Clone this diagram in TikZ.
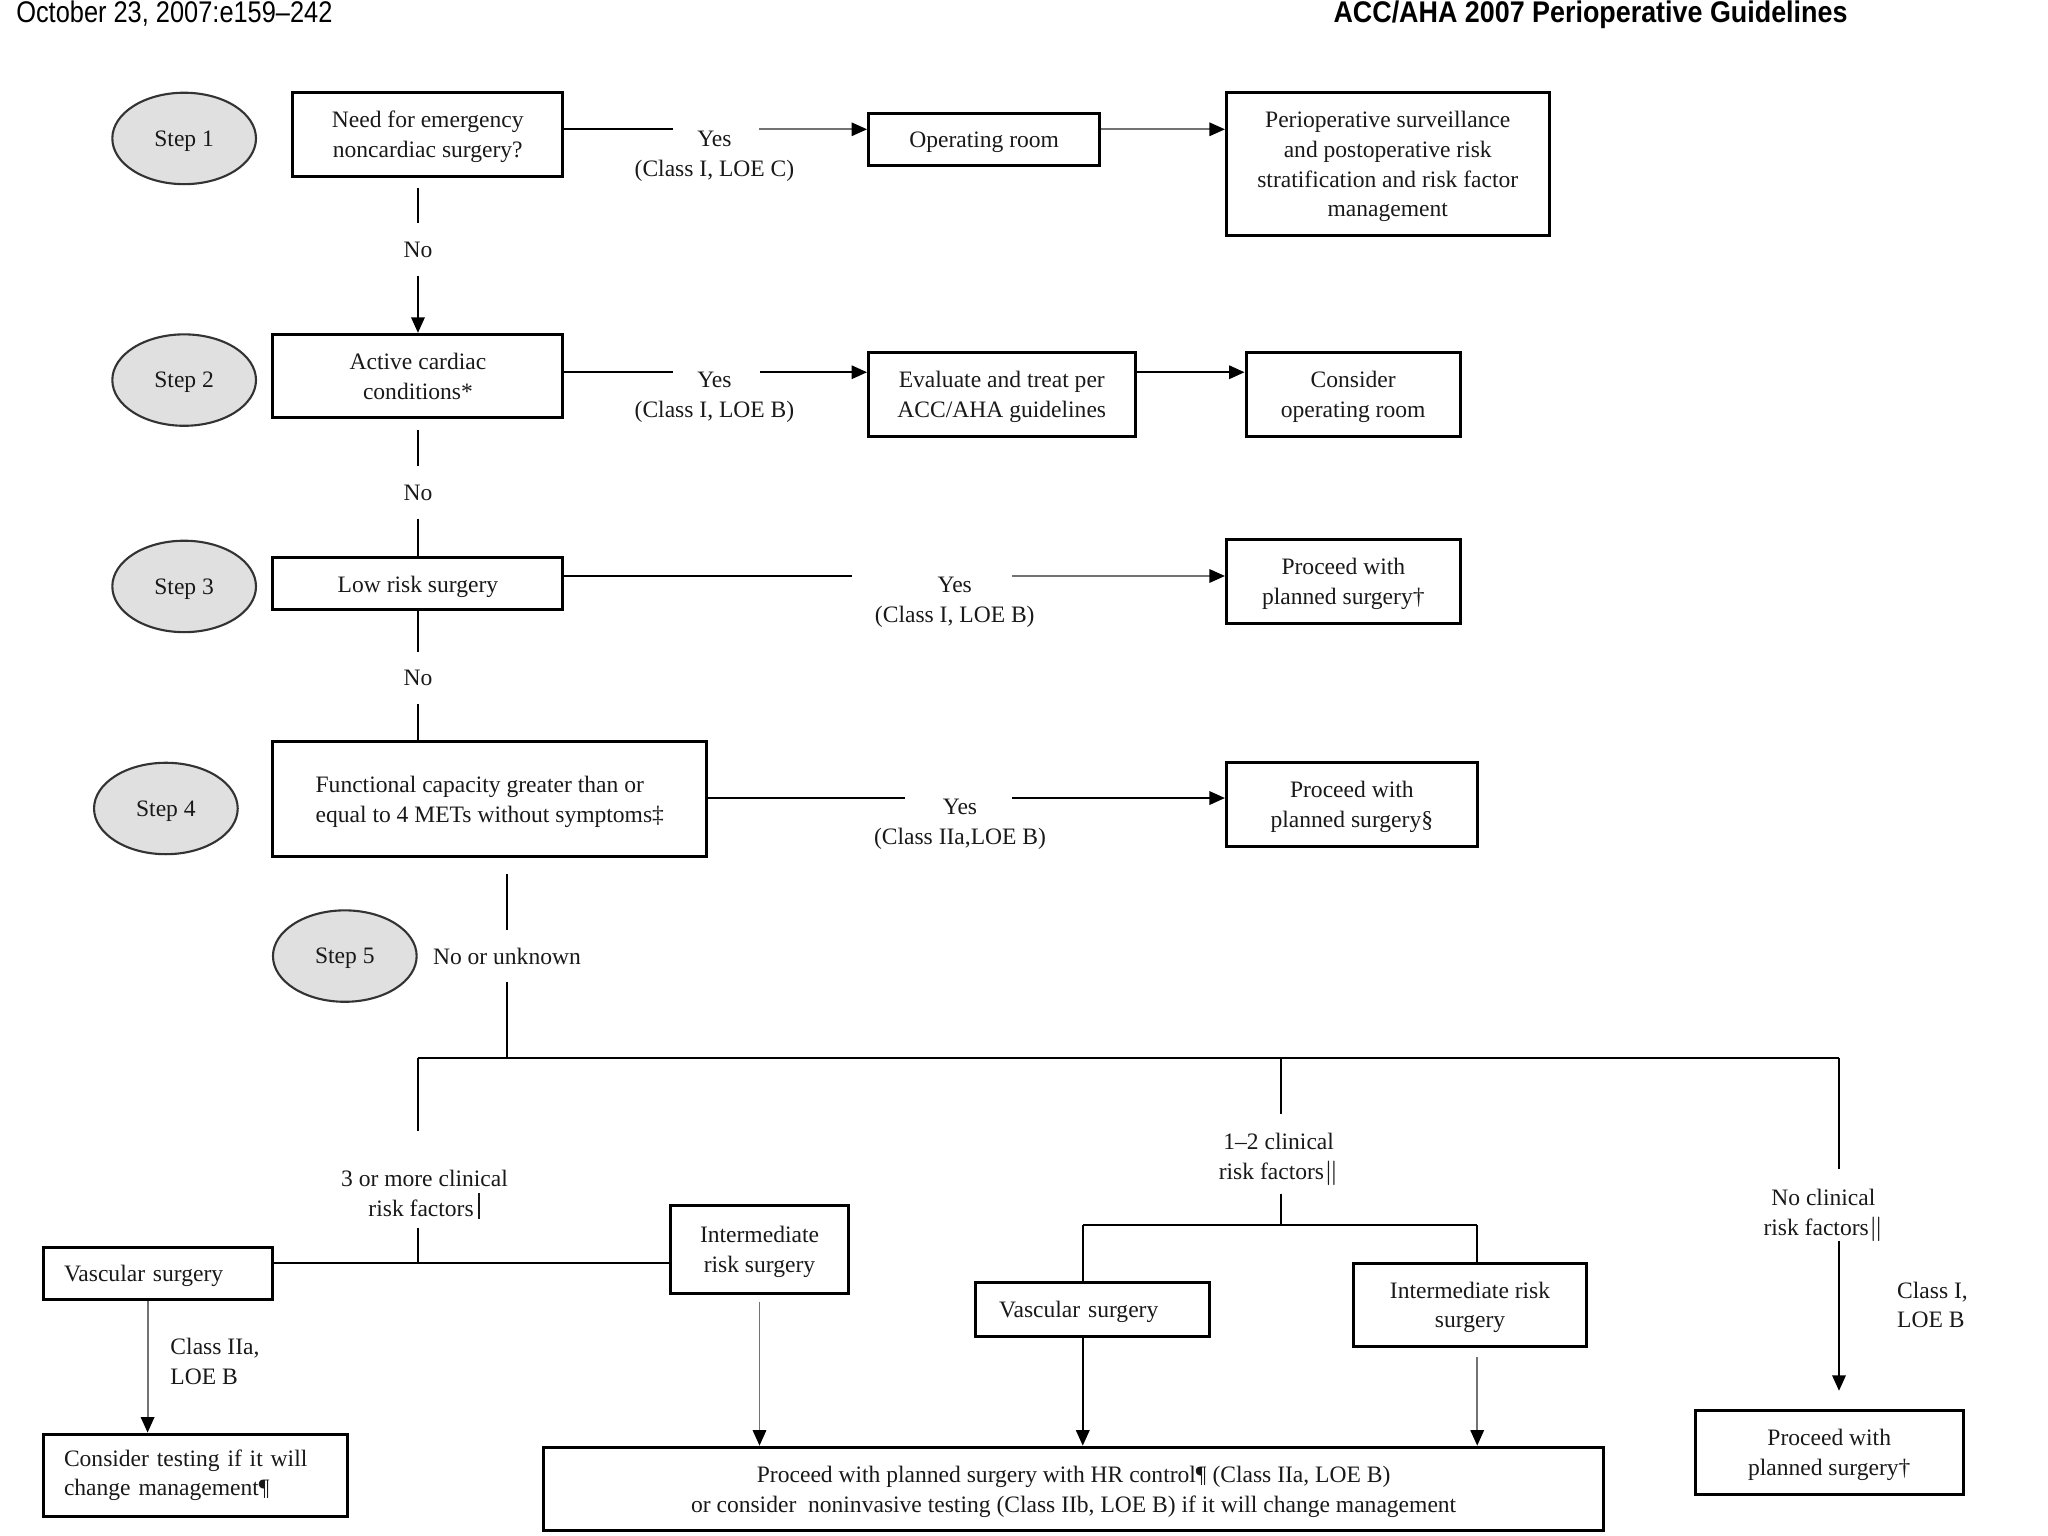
\documentclass[tikz,border=0pt]{standalone}
\usepackage{fontspec}
\setmainfont{Liberation Serif}
\newfontfamily\hdrfont{Liberation Sans}
\usetikzlibrary{shapes.geometric,arrows.meta}
\newdimen\ux \ux=0.013061cm
\newcommand\dbar{\ensuremath{\|}}
\newcommand\sbar{\,\rule[-0.25ex]{0.8pt}{2.4ex}}
\tikzset{
  body/.style={font=\fontsize{6.7}{8.5}\selectfont, text=black!90, text depth=0pt},
  box/.style={body, draw=black, line width=0.85pt, inner sep=0pt, align=center, fill=white},
  stepell/.style={body, ellipse, draw=black!80, line width=0.6pt, fill=black!12, inner sep=0pt, minimum width=110*\ux, minimum height=70*\ux},
  lbl/.style={body, align=center, inner sep=0pt},
  nolbl/.style={lbl, minimum height=39*\ux},
  ln/.style={draw=black, line width=0.6pt},
  arr/.style={ln, -{Triangle[length=4.4pt,width=3.8pt]}},
  garr/.style={draw=black!55, line width=0.55pt, -{Triangle[length=4.4pt,width=3.8pt,color=black]}},
}
\begin{document}
\begin{tikzpicture}[x=0.013061cm,y=-0.013061cm]
\fill[white] (0,0) rectangle (1568,1176);
\useasboundingbox (0,0) rectangle (1568,1176);
% header
\node[anchor=base west, font=\hdrfont\fontsize{8.5}{9}\selectfont, xscale=0.85, inner sep=0] (hdl) at (12,17) {October 23, 2007:e159–242};
\node[anchor=base east, font=\hdrfont\bfseries\fontsize{8.5}{9}\selectfont, xscale=0.9, inner sep=0] (hdr) at (1415,17) {ACC/AHA 2007 Perioperative Guidelines};
% steps
\node[stepell] (s1) at (141,106) {Step 1};
\node[stepell] (s2) at (141,291) {Step 2};
\node[stepell] (s3) at (141,449) {Step 3};
\node[stepell] (s4) at (127,619) {Step 4};
\node[stepell] (s5) at (264,732) {Step 5};
% boxes
\node[box, minimum width=207*\ux, minimum height=64*\ux] (b1) at (327.5,103) {Need for emergency\\noncardiac surgery?};
\node[box, minimum width=177*\ux, minimum height=40*\ux] (op) at (753.5,107) {Operating room};
\node[box, minimum width=247*\ux, minimum height=109*\ux] (peri) at (1062.5,125.5) {Perioperative surveillance\\and postoperative risk\\stratification and risk factor\\management};
\node[box, minimum width=222*\ux, minimum height=64*\ux] (b2) at (320,288) {Active cardiac\\conditions*};
\node[box, minimum width=204*\ux, minimum height=64*\ux] (eval) at (767,302) {Evaluate and treat per\\ACC/AHA guidelines};
\node[box, minimum width=164*\ux, minimum height=64*\ux] (cons) at (1036,302) {Consider\\operating room};
\node[box, minimum width=222*\ux, minimum height=40*\ux] (b3) at (320,447) {Low risk surgery};
\node[box, minimum width=179*\ux, minimum height=64*\ux] (proc3) at (1028.5,445) {Proceed with\\planned surgery†};
\node[box, minimum width=332*\ux, minimum height=88*\ux, align=left] (b4) at (375,612) {Functional capacity greater than or\\equal to 4 METs without symptoms‡};
\node[box, minimum width=192*\ux, minimum height=64*\ux] (proc4) at (1035,616) {Proceed with\\planned surgery§};
\node[box, minimum height=40*\ux, text width=1.8808cm, inner xsep=16*\ux, align=left] (vas1) at (121,975) {Vascular surgery};
\node[box, minimum width=137*\ux, minimum height=67*\ux] (int1) at (581.5,956.5) {Intermediate\\risk surgery};
\node[box, minimum height=63*\ux, text width=2.6253cm, inner xsep=16*\ux, align=left, text depth=] (test) at (149.5,1129.5) {Consider testing if it will\\change management¶};
\node[box, minimum width=812*\ux, minimum height=64*\ux] (big) at (822,1140) {Proceed with planned surgery with HR control¶ (Class IIa, LOE B)\\or consider\ \ noninvasive testing (Class IIb, LOE B) if it will change management};
\node[box, minimum height=41*\ux, text width=1.8677cm, inner xsep=18*\ux, align=left] (vas2) at (836.5,1002.5) {Vascular surgery};
\node[box, minimum width=179*\ux, minimum height=64*\ux] (int2) at (1125.5,999) {Intermediate risk\\surgery};
\node[box, minimum width=205*\ux, minimum height=64*\ux] (proc6) at (1400.5,1112) {Proceed with\\planned surgery†};
% labels
\node[lbl] (y1) at (547,118) {Yes\\(Class I, LOE C)};
\node[lbl] (y2) at (547,302.5) {Yes\\(Class I, LOE B)};
\node[lbl] (y3) at (731,459) {Yes\\(Class I, LOE B)};
\node[lbl] (y4) at (735,629.5) {Yes\\(Class IIa,LOE B)};
\node[nolbl] (no1) at (320,191) {No};
\node[nolbl] (no2) at (320,377) {No};
\node[nolbl] (no3) at (320,519) {No};
\node[lbl, anchor=west] (nu) at (331,732) {No or unknown};
\node[lbl] (rf3) at (325,913.5) {3 or more clinical\\risk factors\sbar};
\node[lbl] (rf12) at (979,885.5) {1–2 clinical\\risk factors\dbar};
\node[lbl] (rf0) at (1396,928.5) {No clinical\\risk factors\dbar};
\node[lbl, align=left, anchor=west] (c2a) at (130,1042) {Class IIa,\\LOE B};
\node[lbl, align=left, anchor=west] (c1) at (1452,999) {Class I,\\LOE B};
% row connectors
\coordinate (g1a) at (515,99); \coordinate (g1b) at (581,99);
\draw[ln] (b1.east|-g1a) -- (g1a);
\draw[garr] (g1b) -- (op.west|-g1b);
\draw[garr] (op.east|-g1b) -- (peri.west|-g1b);
\coordinate (g2a) at (515,285); \coordinate (g2b) at (582,285);
\draw[ln] (b2.east|-g2a) -- (g2a);
\draw[arr] (g2b) -- (eval.west|-g2b);
\draw[arr] (eval.east|-g2b) -- (cons.west|-g2b);
\coordinate (g3a) at (652,441); \coordinate (g3b) at (775,441);
\draw[ln] (b3.east|-g3a) -- (g3a);
\draw[garr] (g3b) -- (proc3.west|-g3b);
\coordinate (g4a) at (693,611); \coordinate (g4b) at (775,611);
\draw[ln] (b4.east|-g4a) -- (g4a);
\draw[arr] (g4b) -- (proc4.west|-g4b);
% vertical spine
\draw[ln, shorten <=3pt] (b1.south-|no1) -- (no1.north);
\draw[arr] (no1.south) -- (b2.north-|no1);
\draw[ln, shorten <=3pt] (b2.south-|no2) -- (no2.north);
\draw[ln] (no2.south) -- (b3.north-|no2);
\draw[ln] (b3.south-|no3) -- (no3.north);
\draw[ln] (no3.south) -- (b4.north-|no3);
\coordinate (v5a) at (388,712); \coordinate (v5b) at (388,752); \coordinate (hub) at (388,810);
\draw[ln, shorten <=4.5pt] (b4.south-|v5a) -- (v5a);
\draw[ln] (v5b) -- (hub);
\coordinate (bl) at (320,810); \coordinate (br) at (1408,810);
\draw[ln] (bl) -- (br);
% left branch
\coordinate (l3a) at (320,866); \coordinate (l3b) at (320,940); \coordinate (j1) at (320,967);
\draw[ln] (bl) -- (l3a);
\draw[ln] (l3b) -- (j1);
\draw[ln] (vas1.east|-j1) -- (int1.west|-j1);
\coordinate (x113) at (113,1000);
\draw[garr] (vas1.south-|x113) -- (test.north-|x113);
\draw[garr, shorten <=2pt] (int1.south) -- (big.north-|int1);
% middle branch
\coordinate (m1) at (981,810); \coordinate (m2) at (981,853); \coordinate (m3) at (981,914); \coordinate (m4) at (981,938);
\coordinate (mL) at (829,938); \coordinate (mR) at (1131,938);
\draw[ln] (m1) -- (m2);
\draw[ln] (m3) -- (m4);
\draw[ln] (mL) -- (mR);
\draw[ln] (mL) -- (vas2.north-|mL);
\draw[ln] (mR) -- (int2.north-|mR);
\draw[arr] (vas2.south-|mL) -- (big.north-|mL);
\draw[garr, shorten <=2.6pt] (int2.south-|mR) -- (big.north-|mR);
% right branch
\coordinate (n1) at (1408,895); \coordinate (n2) at (1408,950);
\draw[ln] (br) -- (n1);
\draw[arr, shorten >=5.2pt] (n2) -- (proc6.north-|n2);
\end{tikzpicture}
\end{document}
